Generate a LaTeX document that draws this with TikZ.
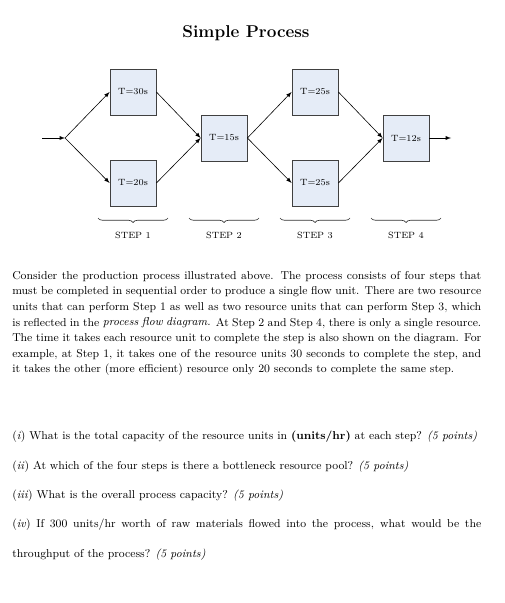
\documentclass[tikz,border=0pt]{standalone}
\usepackage{amsmath}
\usepackage{tikz}
\usetikzlibrary{%
  arrows,%
  decorations.pathreplacing%
}
\definecolor{boxfill}{RGB}{229,236,247}

\begin{document}
\begin{tikzpicture}[x=0.771pt,y=-0.771pt,
    unitbox/.style={draw=black!75,line width=0.6pt,fill=boxfill,
      minimum size=35.5pt,inner sep=0pt,font=\scriptsize},
    flow/.style={-latex,black,line width=0.45pt},
    stepbrace/.style={decorate,decoration={brace,mirror,amplitude=3.5pt},
      line width=0.5pt,black!80}]

    \useasboundingbox (0,0) rectangle (504,603);

    %% title
    \node[font=\fontsize{13.2}{15}\bfseries] (title) at (246,33) {Simple Process};

    %%%%%%%%%%%%%%%%
    %% resource units
    \node[unitbox] (s1a) at (133,92)  {T=30s};
    \node[unitbox] (s1b) at (133,183) {T=20s};
    \node[unitbox] (s2)  at (224,138) {T=15s};
    \node[unitbox] (s3a) at (315,92)  {T=25s};
    \node[unitbox] (s3b) at (315,183) {T=25s};
    \node[unitbox] (s4)  at (406,138) {T=12s};

    %% in / out
    \coordinate (in)    at (42,138);
    \coordinate (split) at (65,138);
    \coordinate (out)   at (451,138);

    %%%%%%%%%%%%%%%%
    %% flow arrows
    \draw[flow] (in) -- (split);
    \draw[flow] (split) -- (s1a.west);
    \draw[flow] (split) -- (s1b.west);
    \draw[flow] (s1a.east) -- (s2.west);
    \draw[flow] (s1b.east) -- (s2.west);
    \draw[flow] (s2.east) -- (s3a.west);
    \draw[flow] (s2.east) -- (s3b.west);
    \draw[flow] (s3a.east) -- (s4.west);
    \draw[flow] (s3b.east) -- (s4.west);
    \draw[flow] (s4.east) -- (out);

    %%%%%%%%%%%%%%%%
    %% step braces
    \foreach \x/\n in {133/1,224/2,315/3,406/4}{
      \draw[stepbrace] (\x-35,218) -- (\x+35,218)
        node[midway,below=7pt,font=\scriptsize,black] (step\n) {STEP \n};
    }

    %%%%%%%%%%%%%%%%
    %% text
    \node[anchor=north west,inner sep=0pt,text width=361.6pt,align=justify,
      font=\fontsize{8.8}{12}\selectfont] (intro) at (12,271)
    {Consider the production process illustrated above. The process consists
      of four steps that must be completed in sequential order to produce a
      single flow unit. There are two resource units that can perform Step 1
      as well as two resource units that can perform Step 3, which is
      reflected in the \textit{process flow diagram.} At Step 2 and Step 4,
      there is only a single resource. The time it takes each resource unit
      to complete the step is also shown on the diagram. For example, at
      Step 1, it takes one of the resource units 30 seconds to complete the
      step, and it takes the other (more efficient) resource only 20 seconds
      to complete the same step.};

    \node[anchor=north west,inner sep=0pt,text width=361.6pt,align=justify,
      font=\fontsize{8.8}{22.6}\selectfont] (questions) at (12,431)
    {(\textit{i}) What is the total capacity of the resource units in
      \textbf{(units/hr)} at each step? \textit{(5 points)}\par
      (\textit{ii}) At which of the four steps is there a bottleneck
      resource pool? \textit{(5 points)}\par
      (\textit{iii}) What is the overall process capacity?
      \textit{(5 points)}\par
      (\textit{iv}) If 300 units/hr worth of raw materials flowed into the
      process, what would be the throughput of the process?
      \textit{(5 points)}};

  \end{tikzpicture}
\end{document}
